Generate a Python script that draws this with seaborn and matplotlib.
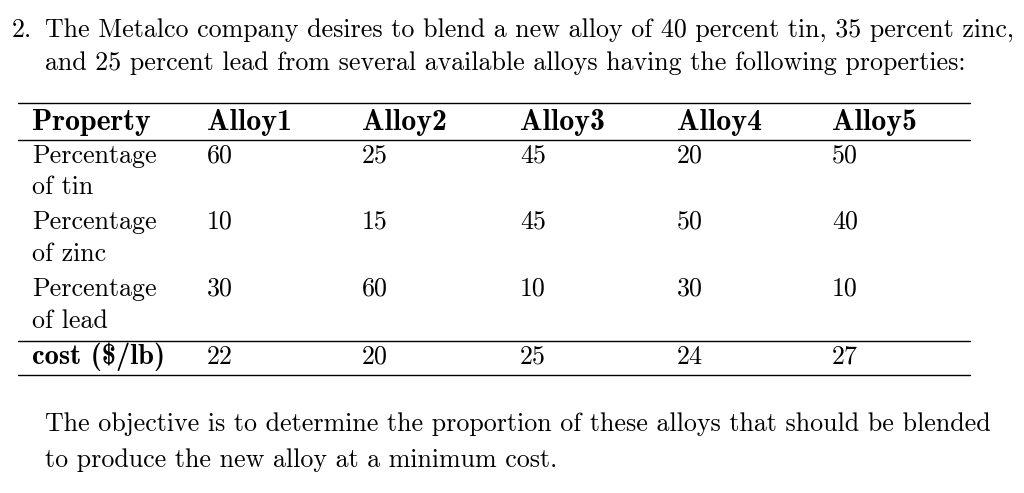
import matplotlib
matplotlib.use("Agg")
import matplotlib.pyplot as plt
import seaborn as sns

sns.set_theme(style="white")
plt.rcParams['font.family'] = ['cmr10', 'DejaVu Serif']
plt.rcParams['axes.unicode_minus'] = False

intro1 = "The Metalco company desires to blend a new alloy of 40 percent tin, 35 percent zinc,"
intro2 = "and 25 percent lead from several available alloys having the following properties:"
outro1 = "The objective is to determine the proportion of these alloys that should be blended"
outro2 = "to produce the new alloy at a minimum cost."
header = ["Property", "Alloy1", "Alloy2", "Alloy3", "Alloy4", "Alloy5"]
row_labels = [("Percentage", "of tin"), ("Percentage", "of zinc"), ("Percentage", "of lead")]
tin = [60, 25, 45, 20, 50]
zinc = [10, 15, 45, 50, 40]
lead = [30, 60, 10, 30, 10]
cost_label = "cost ($/lb)"
cost = [22, 20, 25, 24, 27]

W, H = 1024, 493
fig = plt.figure(figsize=(W/100, H/100), dpi=100)
fig.patch.set_facecolor("white")

def T(x, y, s, bold=False, size=18.7):
    fig.text(x/W, 1 - y/H, s, ha="left", va="center", fontsize=size,
             family=['cmb10' if bold else 'cmr10', 'DejaVu Serif'], color="black")

def rule(y, lw=1.0):
    fig.add_artist(plt.Line2D([18/W, 970/W], [1 - y/H, 1 - y/H], color="black", lw=lw))

T(12, 30, "2.")
T(45, 30, intro1)
T(45, 63, intro2)

colx = [32, 207, 362, 520, 677, 832]
rule(103)
for x, h in zip(colx, header):
    T(x, 122, h, bold=True, size=21.5)
rule(140)

rows_y = [(156, 187), (222, 254), (289, 321)]
for (y1, y2), (l1, l2), vals in zip(rows_y, row_labels, [tin, zinc, lead]):
    T(colx[0], y1, l1)
    T(colx[0], y2, l2)
    for x, v in zip(colx[1:], vals):
        T(x, y1, str(v))
rule(341)
T(colx[0], 357, cost_label.replace("$", r"\$"), bold=True, size=20.5)
for x, v in zip(colx[1:], cost):
    T(x, 357, str(v))
rule(375)

T(45, 424, outro1)
T(45, 460, outro2)

fig.savefig("out.png", dpi=100, facecolor="white")
